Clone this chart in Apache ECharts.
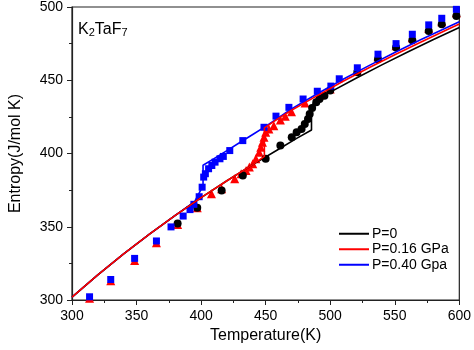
<!DOCTYPE html>
<html><head><meta charset="utf-8">
<script src="https://cdn.jsdelivr.net/npm/echarts@6/dist/echarts.min.js"></script>
<style>html,body{margin:0;padding:0;background:#fff}#c{width:474px;height:350px}</style>
</head><body><div id="c"></div>
<script>
const seriesNames = ['P=0', 'P=0.16 GPa', 'P=0.40 Gpa'];
const xTicks = [300, 350, 400, 450, 500, 550, 600];
const yTicks = [300, 350, 400, 450, 500];

// fitted lines
const lineT_P0 = [300, 320, 340, 360, 380, 400, 420, 440, 460, 474, 485.5, 485.5, 489, 500, 520, 540, 560, 580, 600];
const lineS_P0 = [302, 317.2, 331.5, 345, 357.8, 369.9, 381.4, 392.4, 402.9, 410.3, 416, 432.5, 436.5, 441.9, 451.4, 460.5, 469.3, 477.8, 486];

const lineT_P16 = [300, 320, 340, 360, 380, 400, 420, 440, 449, 449, 460, 470, 490, 510, 530, 550, 570, 590, 600];
const lineS_P16 = [302, 317.2, 331.5, 345, 357.8, 369.9, 381.4, 392.4, 398, 417.5, 424, 429.5, 439.5, 449.3, 458.5, 467.4, 476, 484.3, 488.4];

const lineT_P40 = [300, 320, 340, 360, 380, 395, 401.5, 401.5, 410, 420, 430, 440, 450, 470, 490, 510, 530, 550, 570, 590, 600];
const lineS_P40 = [302, 317.2, 331.5, 345, 357.8, 367.2, 378, 392, 396.5, 402, 407.5, 413, 418.5, 430.5, 440.8, 450.7, 460, 468.9, 477.6, 485.9, 490];

// measured points
const ptT_P0 = [381.8, 397, 415.9, 432.3, 450, 461.4, 470.2, 474, 477.8, 480.3, 482.8, 484.1, 486, 489.2, 491.7, 495.5, 500, 521, 537, 551, 563.6, 576.3, 586.4, 597.7];
const ptS_P0 = [352.2, 363, 374.8, 385, 396.4, 405.4, 411.1, 414.5, 416.8, 420.2, 423.6, 427, 431, 434.9, 437.2, 439.5, 443, 455.5, 464.4, 472.3, 477.3, 483.7, 488.2, 493.9];

const ptT_P16 = [313.6, 330, 348.5, 365.4, 381.8, 397, 408, 415.9, 426, 431, 434.8, 437.4, 440, 442.4, 445, 446.2, 447.5, 448.7, 450, 452.5, 456.3, 461.4, 465.2, 470, 480.5, 491.7, 500, 521, 537, 551, 563.6, 576.3, 586.4, 597.7];
const ptS_P16 = [301.2, 313.2, 327, 339, 351.5, 363, 372.5, 376, 382.7, 386.2, 388.4, 390.7, 393, 396.4, 400.9, 404.3, 407.7, 411.1, 414.5, 416.8, 419, 422.8, 425.5, 428.5, 434.5, 440, 444, 456.5, 466, 473.5, 479, 485.5, 490, 496];

const ptT_P40 = [313.6, 330, 348.5, 365.4, 376.7, 386.1, 391.4, 394.4, 398.5, 400.8, 402, 403.3, 405.8, 408.3, 410.8, 414.6, 417.2, 422.2, 432.3, 448.7, 458, 468, 479, 490, 500.5, 507, 521, 537, 551, 563.6, 576.3, 586.4, 597.7];
const ptS_P40 = [302.2, 314, 328.4, 340.3, 349.9, 357.3, 361.7, 365.3, 370.5, 377, 383.9, 386.2, 389.6, 391.8, 394.1, 396.4, 398, 402, 408.8, 417.9, 425.5, 431.5, 437.2, 442.5, 446, 451, 458.5, 467.8, 475, 481.4, 487.8, 492.3, 498.4];

const colors = ['#000000', '#ff0000', '#0000ff'];
const FONT = 'Liberation Sans, Arial, sans-serif';

function zip(a, b) { return a.map((v, i) => [v, b[i]]); }

const chart = echarts.init(document.getElementById('c'), null, { renderer: 'canvas' });

const lineSeries = [
  { name: seriesNames[2], T: lineT_P40, S: lineS_P40, c: colors[2] },
  { name: seriesNames[0], T: lineT_P0, S: lineS_P0, c: colors[0] },
  { name: seriesNames[1], T: lineT_P16, S: lineS_P16, c: colors[1] }
].map(s => ({
  name: s.name, type: 'line', data: zip(s.T, s.S), showSymbol: false, symbol: 'none',
  lineStyle: { color: s.c, width: 1.6 }, itemStyle: { color: s.c }, silent: true, animation: false
}));

const pointSeries = [
  { name: 'pts16', T: ptT_P16, S: ptS_P16, c: colors[1], sym: 'triangle', size: 9 },
  { name: 'pts0', T: ptT_P0, S: ptS_P0, c: colors[0], sym: 'circle', size: 8 },
  { name: 'pts40', T: ptT_P40, S: ptS_P40, c: colors[2], sym: 'rect', size: 7 }
].map(s => ({
  name: s.name, type: 'scatter', data: zip(s.T, s.S), symbol: s.sym, symbolSize: s.size,
  itemStyle: { color: s.c, opacity: 1 }, silent: true, animation: false
}));

chart.setOption({
  animation: false,
  backgroundColor: '#ffffff',
  grid: { left: 67, right: 11, top: 6, bottom: 50, show: true, borderColor: '#222', borderWidth: 1.2, backgroundColor: 'transparent' },
  title: {
    text: '{a|K}{s|2}{a|TaF}{s|7}', left: 73, top: 17,
    textStyle: {
      fontWeight: 'normal',
      rich: {
        a: { fontFamily: FONT, fontSize: 16, fontWeight: 'normal', color: '#000', lineHeight: 16, verticalAlign: 'top' },
        s: { fontFamily: FONT, fontSize: 11, fontWeight: 'normal', color: '#000', lineHeight: 12, padding: [9, 0, 0, 0], verticalAlign: 'bottom' }
      }
    }
  },
  legend: {
    data: seriesNames, orient: 'vertical', left: 334, top: 221, itemWidth: 30, itemHeight: 2, itemGap: 0,
    icon: 'rect', selectedMode: false,
    textStyle: { fontFamily: FONT, fontSize: 14, color: '#000', lineHeight: 15.5, padding: [0, 0, 0, -2] }
  },
  xAxis: {
    type: 'value', min: xTicks[0], max: xTicks[xTicks.length - 1], interval: 50,
    name: 'Temperature(K)', nameLocation: 'middle', nameGap: 26,
    nameTextStyle: { fontFamily: FONT, fontSize: 16, color: '#000' },
    axisLine: { show: true, lineStyle: { color: '#222', width: 1.2 } },
    axisTick: { show: true, inside: false, length: 5, lineStyle: { color: '#222', width: 1 } },
    minorTick: { show: true, splitNumber: 2, length: 3, lineStyle: { color: '#222', width: 1 } },
    axisLabel: { fontFamily: FONT, fontSize: 14, color: '#000', margin: 9 },
    splitLine: { show: false }
  },
  yAxis: {
    type: 'value', min: yTicks[0], max: yTicks[yTicks.length - 1], interval: 50,
    name: 'Entropy(J/mol K)', nameLocation: 'middle', nameGap: 48, nameRotate: 90,
    nameTextStyle: { fontFamily: FONT, fontSize: 16, color: '#000' },
    axisLine: { show: true, lineStyle: { color: '#222', width: 1.2 } },
    axisTick: { show: true, inside: false, length: 5, lineStyle: { color: '#222', width: 1 } },
    minorTick: { show: true, splitNumber: 2, length: 3, lineStyle: { color: '#222', width: 1 } },
    axisLabel: { fontFamily: FONT, fontSize: 14, color: '#000', margin: 9 },
    splitLine: { show: false }
  },
  series: lineSeries.concat(pointSeries)
});
</script>
</body></html>
